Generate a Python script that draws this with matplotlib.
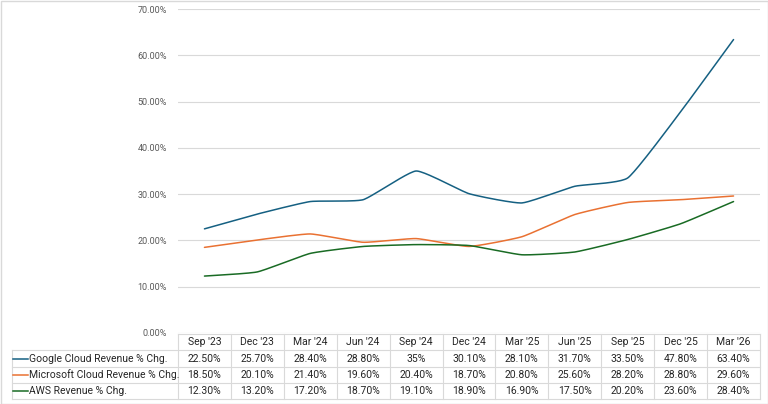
import numpy as np
import matplotlib.pyplot as plt
from matplotlib.lines import Line2D
from matplotlib.patches import Rectangle

W, H = 768, 404

quarters = ["Sep '23", "Dec '23", "Mar '24", "Jun '24", "Sep '24", "Dec '24",
            "Mar '25", "Jun '25", "Sep '25", "Dec '25", "Mar '26"]
google = [22.5, 25.7, 28.4, 28.8, 35.0, 30.1, 28.1, 31.7, 33.5, 47.8, 63.4]
microsoft = [18.5, 20.1, 21.4, 19.6, 20.4, 18.7, 20.8, 25.6, 28.2, 28.8, 29.6]
aws = [12.3, 13.2, 17.2, 18.7, 19.1, 18.9, 16.9, 17.5, 20.2, 23.6, 28.4]
google_lbl = ["22.50%", "25.70%", "28.40%", "28.80%", "35%", "30.10%",
              "28.10%", "31.70%", "33.50%", "47.80%", "63.40%"]

series = [
    ("Google Cloud Revenue % Chg.", google, "#156082", google_lbl),
    ("Microsoft Cloud Revenue % Chg.", microsoft, "#E97132", None),
    ("AWS Revenue % Chg.", aws, "#196B24", None),
]

plt.rcParams['font.family'] = ['Roboto', 'DejaVu Sans']


def smooth(y, n=24, k=0.45):
    # Catmull-Rom style curve through the points, like Excel's smoothed line
    y = np.asarray(y, float)
    x = np.arange(len(y), dtype=float)
    px = np.concatenate([[2 * x[0] - x[1]], x, [2 * x[-1] - x[-2]]])
    py = np.concatenate([[2 * y[0] - y[1]], y, [2 * y[-1] - y[-2]]])
    xs, ys = [], []
    t = np.linspace(0, 1, n)
    for i in range(1, len(px) - 2):
        for arr, out in ((px, xs), (py, ys)):
            p0, p1, p2, p3 = arr[i - 1], arr[i], arr[i + 1], arr[i + 2]
            m1 = (p2 - p0) / 2 * k
            m2 = (p3 - p1) / 2 * k
            h00 = 2 * t**3 - 3 * t**2 + 1
            h10 = t**3 - 2 * t**2 + t
            h01 = -2 * t**3 + 3 * t**2
            h11 = t**3 - t**2
            out.extend(h00 * p1 + h10 * m1 + h01 * p2 + h11 * m2)
    return np.array(xs), np.array(ys)


def fx(px):
    return px / W


def fy(py):
    return (H - py) / H


fig = plt.figure(figsize=(W / 100, H / 100), dpi=100)
fig.add_artist(Rectangle((0.5 / W, 0.5 / H), 1 - 1 / W, 1 - 1 / H, transform=fig.transFigure,
                         fill=False, edgecolor="#D9D9D9", linewidth=1))

x0, x1 = 178, 760
ytop, ybot = 9, 333
ax = fig.add_axes([fx(x0), fy(ybot), (x1 - x0) / W, (ybot - ytop) / H])
ax.set_xlim(-0.5, len(quarters) - 0.5)
ax.set_ylim(0, 70)
ax.set_yticks(np.arange(0, 71, 10))
ax.yaxis.grid(True, color="#D9D9D9", linewidth=0.8)
ax.set_axisbelow(True)
for s in ax.spines.values():
    s.set_visible(False)
ax.set_xticks([])
ax.tick_params(axis="y", length=0, pad=8, labelsize=6.5, labelcolor="#595959")
ax.set_yticklabels([f"{v:.2f}%" for v in np.arange(0, 71, 10)])

for name, vals, col, _ in series:
    sx, sy = smooth(vals)
    ax.plot(sx, sy, color=col, linewidth=1.1, solid_capstyle="round")

# data table under the plot
grid_col = "#D9D9D9"
rows_y = [334, 350, 367, 383, 399]
tl = 12
colw = (x1 - x0) / len(quarters)
col_x = [x0 + i * colw for i in range(len(quarters) + 1)]


def hline(xa, xb, y):
    fig.add_artist(Line2D([fx(xa), fx(xb)], [fy(y), fy(y)], color=grid_col, linewidth=0.8))


def vline(x, ya, yb):
    fig.add_artist(Line2D([fx(x), fx(x)], [fy(ya), fy(yb)], color=grid_col, linewidth=0.8))


hline(x0, x1, rows_y[0])
for y in rows_y[1:]:
    hline(tl, x1, y)
for x in col_x:
    vline(x, rows_y[0], rows_y[-1])
vline(tl, rows_y[1], rows_y[-1])

fs = 7.5
for i, q in enumerate(quarters):
    cx = x0 + (i + 0.5) * colw
    fig.text(fx(cx), fy((rows_y[0] + rows_y[1]) / 2), q, ha="center", va="center",
             fontsize=fs, color="#262626")

for r, (name, vals, col, lbl) in enumerate(series):
    yc = (rows_y[r + 1] + rows_y[r + 2]) / 2
    fig.add_artist(Line2D([fx(13), fx(28)], [fy(yc), fy(yc)], color=col, linewidth=1.1))
    fig.text(fx(29), fy(yc), name, ha="left", va="center", fontsize=fs, color="#262626")
    for i, v in enumerate(vals):
        cx = x0 + (i + 0.5) * colw
        txt = lbl[i] if lbl else f"{v:.2f}%"
        fig.text(fx(cx), fy(yc), txt, ha="center", va="center", fontsize=fs, color="#262626")

fig.savefig("out.png", dpi=100)
